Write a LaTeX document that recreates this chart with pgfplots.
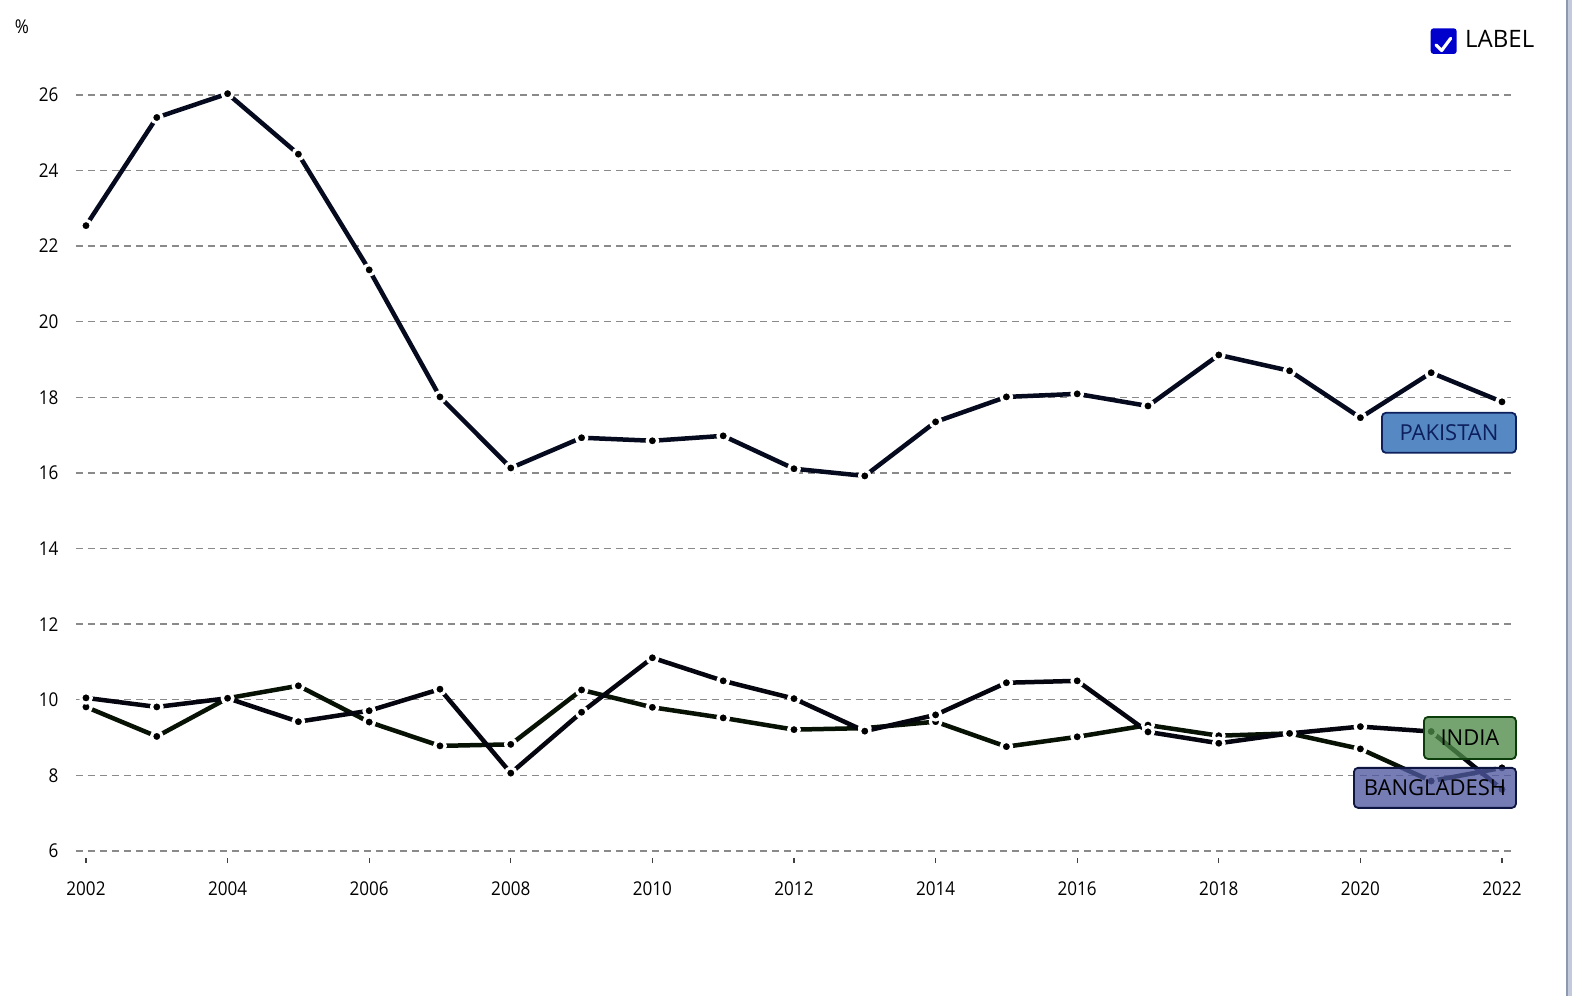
\documentclass[border=0pt]{standalone}
\usepackage{fontspec}
\setmainfont{Open Sans}
\newfontfamily\tickfont[FakeStretch=0.9]{Open Sans}
\usepackage{pgfplots}
\usepackage{pgfplotstable}
\pgfplotsset{compat=1.18}

\definecolor{pakline}{HTML}{060A1E}
\definecolor{indline}{HTML}{071205}
\definecolor{bgdline}{HTML}{04050F}
\definecolor{gridgray}{HTML}{8A8A8A}
\definecolor{pakfill}{HTML}{5689C3}
\definecolor{pakdraw}{HTML}{0D1F5C}
\definecolor{indfill}{HTML}{4E8B48}
\definecolor{inddraw}{HTML}{0B3D0B}
\definecolor{bgdfill}{HTML}{4F58A0}
\definecolor{bgddraw}{HTML}{0E1540}
\definecolor{checkblue}{HTML}{0000CC}
\definecolor{edgedark}{HTML}{8C99AE}
\definecolor{edgelight}{HTML}{C3CADB}

% year  value (%)
\pgfplotstableread{
year val
2002 22.54
2003 25.40
2004 26.03
2005 24.43
2006 21.37
2007 18.01
2008 16.13
2009 16.93
2010 16.85
2011 16.98
2012 16.11
2013 15.92
2014 17.35
2015 18.01
2016 18.09
2017 17.77
2018 19.12
2019 18.70
2020 17.46
2021 18.65
2022 17.88
}\pakistan

\pgfplotstableread{
year val
2002 9.81
2003 9.03
2004 10.04
2005 10.37
2006 9.41
2007 8.78
2008 8.82
2009 10.26
2010 9.80
2011 9.52
2012 9.21
2013 9.25
2014 9.42
2015 8.76
2016 9.02
2017 9.33
2018 9.05
2019 9.11
2020 8.70
2021 7.85
2022 8.20
}\india

\pgfplotstableread{
year val
2002 10.05
2003 9.81
2004 10.04
2005 9.42
2006 9.71
2007 10.28
2008 8.06
2009 9.67
2010 11.11
2011 10.50
2012 10.03
2013 9.17
2014 9.60
2015 10.45
2016 10.50
2017 9.15
2018 8.85
2019 9.11
2020 9.29
2021 9.16
2022 7.63
}\bangladesh

\begin{document}
\begin{tikzpicture}[x=1pt,y=1pt]
\path[use as bounding box] (-76,-145) rectangle (1496,851);
\begin{axis}[
  at={(0,0)}, anchor=south west,
  scale only axis, width=1439pt, height=794pt,
  xmin=2001.859, xmax=2022.184, ymin=6, ymax=27,
  clip=false,
  separate axis lines,
  axis line style={draw=none},
  xtick={2002,2004,...,2022},
  ytick={6,8,...,26},
  xtick pos=bottom,
  ytick style={draw=none},
  tick align=outside,
  major tick length=5pt,
  xtick style={black!75, line width=1.3pt, yshift=-7pt},
  /pgf/number format/assume math mode=true,
  /pgf/number format/1000 sep={},
  tick label style={font=\tickfont\fontsize{19}{22}\selectfont, text=black},
  xticklabel style={yshift=-22pt},
  yticklabel style={xshift=-9pt},
  ymajorgrids,
  grid style={gridgray, line width=1.4pt, dash pattern=on 7pt off 5pt},
  every axis plot/.append style={line width=4.5pt, line join=round,
    mark=*, mark size=5.3pt,
    mark options={fill=black, draw=white, line width=3.2pt, solid}},
]
\addplot[pakline] table[x=year, y=val] {\pakistan};
\addplot[indline] table[x=year, y=val] {\india};
\addplot[bgdline] table[x=year, y=val] {\bangladesh};

% anchor points for the series name tags
\coordinate (tagPK) at (axis cs:2022.21,17.06);
\coordinate (tagIN) at (axis cs:2022.21,8.99);
\coordinate (tagBD) at (axis cs:2022.21,7.67);
\end{axis}

% series name tags, drawn over the lines
\node[anchor=east, draw=pakdraw, line width=1.8pt, fill=pakfill,
  rounded corners=4pt, minimum width=134pt, minimum height=40pt,
  inner sep=2pt, text=pakdraw, font=\fontsize{22}{26}\selectfont]
  at (tagPK) {PAKISTAN};
\node[anchor=east, draw=inddraw, line width=1.8pt, fill=indfill, fill opacity=0.78,
  text opacity=1, draw opacity=1,
  rounded corners=4pt, minimum width=92pt, minimum height=42pt,
  inner sep=2pt, text=black, font=\fontsize{22}{26}\selectfont]
  at (tagIN) {INDIA};
\node[anchor=east, draw=bgddraw, line width=1.8pt, fill=bgdfill, fill opacity=0.78,
  text opacity=1, draw opacity=1,
  rounded corners=4pt, minimum width=162pt, minimum height=40pt,
  inner sep=2pt, text=black, font=\fontsize{22}{26}\selectfont]
  at (tagBD) {BANGLADESH};

% unit marker
\node[font=\tickfont\fontsize{19}{22}\selectfont] at (-54,824) {\%};

% legend toggle
\fill[checkblue, rounded corners=3pt] (1354.7,797) rectangle (1380.7,822.7);
\draw[white, line width=3.2pt, line cap=round, line join=round]
  (1360,806) -- (1365.7,800.5) -- (1374.7,812.7);
\node[anchor=west, inner sep=0pt, font=\fontsize{24}{28}\selectfont] at (1389,812) {LABEL};

% window edge
\fill[edgedark] (1490,-145) rectangle (1492,851);
\fill[edgelight] (1492,-145) rectangle (1496,851);
\end{tikzpicture}
\end{document}
